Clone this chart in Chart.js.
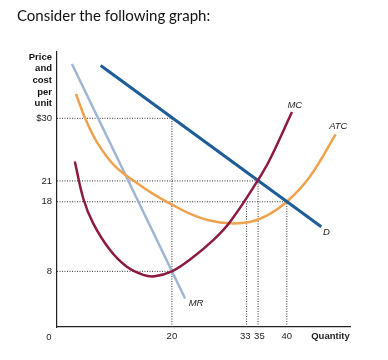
<!DOCTYPE html>
<html>
<head>
<meta charset="utf-8">
<script src="https://cdn.jsdelivr.net/npm/chart.js@4/dist/chart.umd.min.js"></script>
<style>
  html, body { margin: 0; padding: 0; background: #fff; }
  #wrap { position: relative; width: 388px; height: 360px; }
  #title { position: absolute; left: 17px; top: 6px; font-family: Lato, "Open Sans", sans-serif; font-size: 15px; color: #111; white-space: nowrap; }
  canvas { position: absolute; left: 0; top: 0; }
</style>
</head>
<body>
<div id="wrap">
  <canvas id="c" width="388" height="360"></canvas>
  <div id="title">Consider the following graph:</div>
</div>
<script>
// ---- data ----
const demandQ = [7.6, 46];
const demandP = [37.6, 14.4];

const mrQ = [2.6, 22.3];
const mrP = [37.8, 4.1];

const mcQ = [3.1, 4.6, 6.3, 9.2, 12.1, 15, 17, 20, 23, 27.2, 30.1, 34.9, 37, 40.9];
const mcP = [23.8, 18.4, 14.9, 11.1, 8.7, 7.5, 7.3, 8, 9.6, 12.5, 15.1, 21, 24, 30.9];

const atcQ = [3.3, 5, 7, 10, 13.9, 17, 20, 23.1, 26.6, 30.1, 33.6, 36.5, 40, 44, 48.5];
const atcP = [33.5, 29.8, 26.5, 23.2, 20.7, 19.0, 17.6, 16.3, 15.3, 14.9, 15.1, 16.0, 18.0, 21.6, 27.7];

// dotted guide lines
const guideQ = [20, 33, 35, 40];          // vertical lines at these quantities
const guideQTop = [30, 18, 21, 18];       // ...rising to these prices
const guideP = [30, 21, 18, 8];           // horizontal lines at these prices
const guidePEnd = [20, 35, 40, 20];       // ...reaching to these quantities

const xTickValues = [20, 33, 35, 40, 47.6];
const xTickLabels = ['20', '33 ', ' 35', '40', 'Quantity'];
const yTickValues = [8, 18, 21, 30];
const yTickLabels = ['8', '18', '21', '$30'];

const curveLabels = ['MR', 'MC', 'ATC', 'D'];
const curveLabelQ = [24.2, 41.4, 48.96, 46.9];
const curveLabelP = [3.4, 31.9, 28.9, 13.65];

const yTitleLines = ['Price', 'and', 'cost', 'per', 'unit'];

// ---- build datasets ----
const pts = (qs, ps) => qs.map((q, i) => ({ x: q, y: ps[i] }));

const datasets = [
  { label: 'MC', data: pts(mcQ, mcP), borderColor: '#8c1a42', borderWidth: 2.5, tension: 0.4, order: 1 },
  { label: 'D', data: pts(demandQ, demandP), borderColor: '#1d5d98', borderWidth: 3, tension: 0, order: 2 },
  { label: 'ATC', data: pts(atcQ, atcP), borderColor: '#eea24e', borderWidth: 2.5, tension: 0.4, order: 3 },
  { label: 'MR', data: pts(mrQ, mrP), borderColor: '#9fb6d2', borderWidth: 2.5, tension: 0, order: 4 }
];
guideQ.forEach((q, i) => {
  datasets.push({ label: 'gv' + i, data: [{ x: q, y: 0 }, { x: q, y: guideQTop[i] }],
    borderColor: '#333', borderWidth: 1, borderDash: [1, 1.5], tension: 0, order: 10 });
});
guideP.forEach((p, i) => {
  datasets.push({ label: 'gh' + i, data: [{ x: 0, y: p }, { x: guidePEnd[i], y: p }],
    borderColor: '#333', borderWidth: 1, borderDash: [1, 1.5], tension: 0, order: 10 });
});
datasets.forEach(d => { d.pointRadius = 0; d.fill = false; d.showLine = true; });

const FONT = '"Liberation Sans", Arial, sans-serif';

const textPlugin = {
  id: 'texts',
  afterDraw(chart) {
    const ctx = chart.ctx;
    const xs = chart.scales.x, ys = chart.scales.y;
    ctx.save();
    // y title
    ctx.fillStyle = '#111';
    ctx.font = 'bold 9.5px ' + FONT;
    ctx.textAlign = 'right';
    ctx.textBaseline = 'middle';
    yTitleLines.forEach((t, i) => ctx.fillText(t, xs.left - 5, 57 + i * 11.7));
    // origin label
    ctx.font = '9.5px ' + FONT;
    ctx.fillStyle = '#222';
    ctx.textAlign = 'center';
    ctx.fillText('0', xs.getPixelForValue(0) - 8, ys.bottom + 10);
    // curve labels
    ctx.font = 'italic 9.5px ' + FONT;
    ctx.fillStyle = '#222';
    curveLabels.forEach((t, i) => {
      ctx.fillText(t, xs.getPixelForValue(curveLabelQ[i]), ys.getPixelForValue(curveLabelP[i]));
    });
    ctx.restore();
  }
};

new Chart(document.getElementById('c'), {
  type: 'scatter',
  data: { datasets },
  options: {
    responsive: false,
    animation: false,
    layout: { padding: { left: 32, top: 52, right: 38, bottom: 13 } },
    plugins: { legend: { display: false }, tooltip: { enabled: false }, title: { display: false } },
    scales: {
      x: {
        type: 'linear', min: 0, max: 51,
        grid: { display: false, drawTicks: false },
        border: { display: true, color: '#222', width: 1.2 },
        afterFit: s => { s.height = 20; },
        afterBuildTicks: s => { s.ticks = xTickValues.map(v => ({ value: v })); },
        ticks: {
          autoSkip: false, maxRotation: 0, minRotation: 0, padding: 4, color: '#222',
          font: c => (c.tick && c.tick.value === 47.6) ? { family: FONT, size: 9.5, weight: 'bold' } : { family: FONT, size: 9.5 },
          callback: (v) => { const i = xTickValues.indexOf(v); return i >= 0 ? xTickLabels[i] : ''; }
        }
      },
      y: {
        type: 'linear', min: 0, max: 39.53,
        grid: { display: false, drawTicks: false },
        border: { display: true, color: '#222', width: 1.2 },
        afterFit: s => { s.width = 25; },
        afterBuildTicks: s => { s.ticks = yTickValues.map(v => ({ value: v })); },
        ticks: {
          autoSkip: false, padding: 5, color: '#222',
          font: { family: FONT, size: 9.5 },
          callback: (v) => { const i = yTickValues.indexOf(v); return i >= 0 ? yTickLabels[i] : ''; }
        }
      }
    }
  },
  plugins: [textPlugin]
});
</script>
</body>
</html>
